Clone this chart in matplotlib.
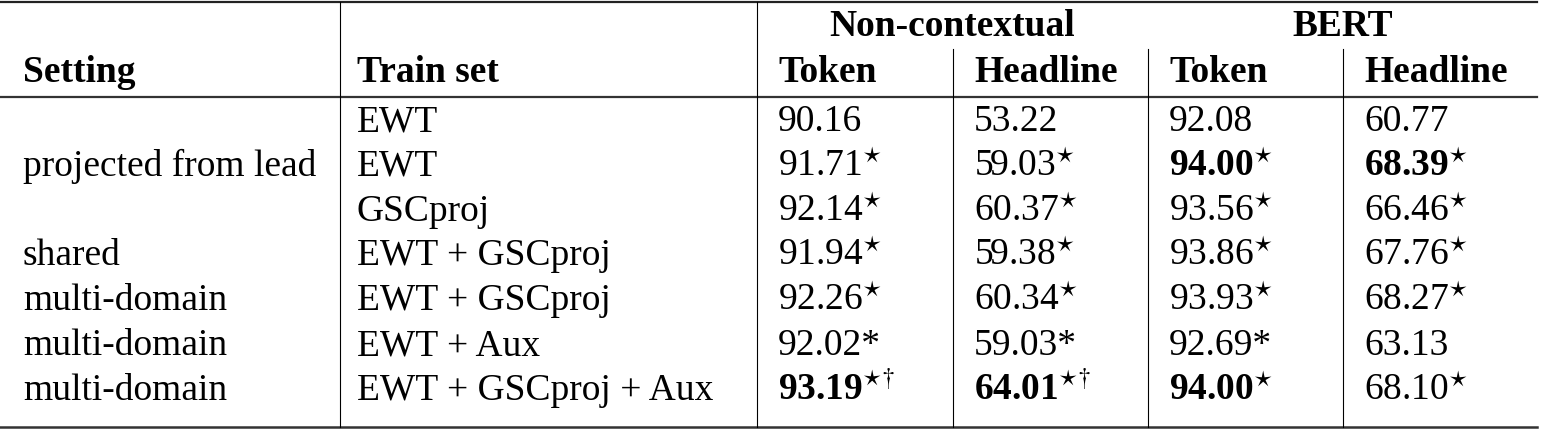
import matplotlib.pyplot as plt

# table content
settings = ["", "projected from lead", "", "shared", "multi-domain", "multi-domain", "multi-domain"]
train_sets = ["EWT", "EWT", "GSCproj", "EWT + GSCproj", "EWT + GSCproj", "EWT + Aux",
              "EWT + GSCproj + Aux"]
nc_token = [90.16, 91.71, 92.14, 91.94, 92.26, 92.02, 93.19]
nc_headline = [53.22, 59.03, 60.37, 59.38, 60.34, 59.03, 64.01]
bert_token = [92.08, 94.00, 93.56, 93.86, 93.93, 92.69, 94.00]
bert_headline = [60.77, 68.39, 66.46, 67.76, 68.27, 63.13, 68.10]
# significance marks: s = star, a = asterisk, sd = star + dagger
nc_token_marks = ["", "s", "s", "s", "s", "a", "sd"]
nc_headline_marks = ["", "s", "s", "s", "s", "a", "sd"]
bert_token_marks = ["", "s", "s", "s", "s", "a", "s"]
bert_headline_marks = ["", "s", "s", "s", "s", "", "s"]

group_labels = ["Non-contextual", "BERT"]
sub_labels = ["Token", "Headline", "Token", "Headline"]

plt.rcParams['font.family'] = ['Liberation Serif', 'DejaVu Serif']
plt.rcParams['mathtext.fontset'] = 'stix'

W, H = 1541, 430
fig = plt.figure(figsize=(W / 100, H / 100), dpi=100)
ax = fig.add_axes([0, 0, 1, 1])
ax.set_xlim(0, W)
ax.set_ylim(H, 0)
ax.axis('off')

fs = 27
line_x = [340, 757, 953, 1148, 1343]
right = 1537
text_x = [23, 357, 778, 974, 1169, 1364]
row0, dy = 131, 44.8

# rules
ax.plot([0, right], [2, 2], color='#222222', lw=1.6)
ax.plot([0, right], [97, 97], color='#333333', lw=1.6)
ax.plot([0, right], [427, 427], color='#333333', lw=1.8)
for x in line_x[:2]:
    ax.plot([x, x], [2, 427], color='black', lw=0.8)
for x in line_x[2:]:
    ax.plot([x, x], [49, 427], color='black', lw=0.8)

# header
ax.text(text_x[0], 82, "Setting", fontsize=fs, fontweight='bold', va='baseline')
ax.text(text_x[1], 82, "Train set", fontsize=fs, fontweight='bold', va='baseline')
ax.text((line_x[1] + line_x[3]) / 2, 36, group_labels[0], fontsize=fs, fontweight='bold',
        va='baseline', ha='center')
ax.text((line_x[3] + right) / 2, 36, group_labels[1], fontsize=fs, fontweight='bold',
        va='baseline', ha='center')
for x, lab in zip(text_x[2:], sub_labels):
    ax.text(x, 82, lab, fontsize=fs, fontweight='bold', va='baseline')

mark_tex = {"": "", "s": r"$^{\star}$", "a": "*", "sd": r"$^{{\star}{\dagger}}$"}

columns = [(nc_token, nc_token_marks), (nc_headline, nc_headline_marks),
           (bert_token, bert_token_marks), (bert_headline, bert_headline_marks)]

for i in range(len(train_sets)):
    y = row0 + i * dy
    if settings[i]:
        ax.text(text_x[0], y, settings[i], fontsize=fs, va='baseline')
    ax.text(text_x[1], y, train_sets[i], fontsize=fs, va='baseline')
    for j, (vals, marks) in enumerate(columns):
        best = vals[i] == max(vals)
        ax.text(text_x[2 + j], y, f"{vals[i]:.2f}" + mark_tex[marks[i]], fontsize=fs,
                va='baseline', fontweight='bold' if best else 'normal')

fig.savefig('out.png', dpi=100)
